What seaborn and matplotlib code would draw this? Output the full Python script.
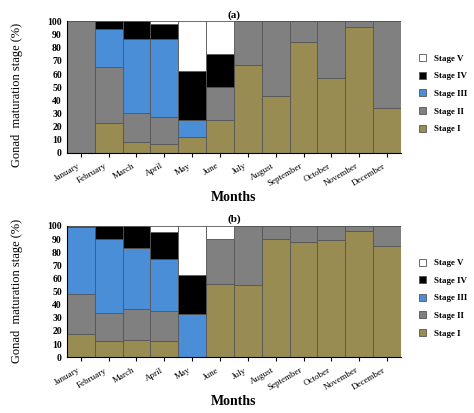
import numpy as np
import pandas as pd
import matplotlib
matplotlib.use('Agg')
import matplotlib.pyplot as plt
import seaborn as sns

months = ['January', 'February', 'March', 'April', 'May', 'June', 'July',
          'August', 'September', 'October', 'November', 'December']
stages = ['Stage I', 'Stage II', 'Stage III', 'Stage IV', 'Stage V']
colors = ['#988c52', '#808080', '#4a8ed8', '#000000', '#ffffff']

# panel (a), percentage per stage
a_stage1 = [0, 23, 8, 7, 12, 25, 67, 43, 84, 57, 96, 34]
a_stage2 = [100, 42, 22, 20, 0, 25, 33, 57, 16, 43, 4, 66]
a_stage3 = [0, 29, 57, 60, 13, 0, 0, 0, 0, 0, 0, 0]
a_stage4 = [0, 6, 13, 11, 37, 25, 0, 0, 0, 0, 0, 0]
a_stage5 = [0, 0, 0, 2, 38, 25, 0, 0, 0, 0, 0, 0]

# panel (b)
b_stage1 = [18, 12, 13, 12, 0, 56, 55, 90, 88, 89, 96, 85]
b_stage2 = [30, 22, 24, 23, 0, 34, 45, 10, 12, 11, 4, 15]
b_stage3 = [51, 56, 46, 40, 33, 0, 0, 0, 0, 0, 0, 0]
b_stage4 = [1, 10, 17, 20, 30, 0, 0, 0, 0, 0, 0, 0]
b_stage5 = [0, 0, 0, 5, 37, 10, 0, 0, 0, 0, 0, 0]

plt.rcParams['font.family'] = ['Liberation Serif', 'DejaVu Serif']

fig = plt.figure(figsize=(4.74, 4.13), dpi=100)
ax_a = fig.add_axes([0.141, 0.63, 0.705, 0.318])
ax_b = fig.add_axes([0.141, 0.135, 0.705, 0.318])


def draw_panel(ax, series, title):
    bottom = np.zeros(len(months))
    for name, vals, c in zip(stages, series, colors):
        df = pd.DataFrame({'month': months, 'val': vals})
        sns.barplot(data=df, x='month', y='val', bottom=bottom, color=c,
                    width=1.0, edgecolor='#555555', linewidth=0.6,
                    label=name, ax=ax, saturation=1)
        bottom = bottom + np.array(vals)
    ax.set_ylim(0, 100)
    ax.set_xlim(-0.5, 11.5)
    ax.set_yticks(range(0, 101, 10))
    ax.tick_params(axis='y', labelsize=7, length=0)
    ax.tick_params(axis='x', labelsize=6.5, rotation=30, length=3)
    for lbl in ax.get_yticklabels():
        lbl.set_fontweight('bold')
    for lbl in ax.get_xticklabels():
        lbl.set_ha('right')
    ax.set_title(title, fontsize=8, fontweight='bold', pad=3)
    ax.set_xlabel('Months', fontsize=10, fontweight='bold', labelpad=2)
    ax.set_ylabel('')
    for s in ['top', 'right']:
        ax.spines[s].set_visible(False)
    h, l = ax.get_legend_handles_labels()
    ax.legend(h[::-1], l[::-1], loc='center left', bbox_to_anchor=(1.03, 0.45),
              frameon=False, fontsize=6.5, prop={'weight': 'bold', 'size': 6.5},
              handlelength=0.8, handleheight=0.8, labelspacing=1.0)


draw_panel(ax_a, [a_stage1, a_stage2, a_stage3, a_stage4, a_stage5], '(a)')
draw_panel(ax_b, [b_stage1, b_stage2, b_stage3, b_stage4, b_stage5], '(b)')

fig.text(0.035, 0.77, 'Gonad  maturation stage (%)', rotation=90,
         va='center', ha='center', fontsize=9)
fig.text(0.035, 0.295, 'Gonad  maturation stage (%)', rotation=90,
         va='center', ha='center', fontsize=9)

fig.savefig('out.png', dpi=100)
